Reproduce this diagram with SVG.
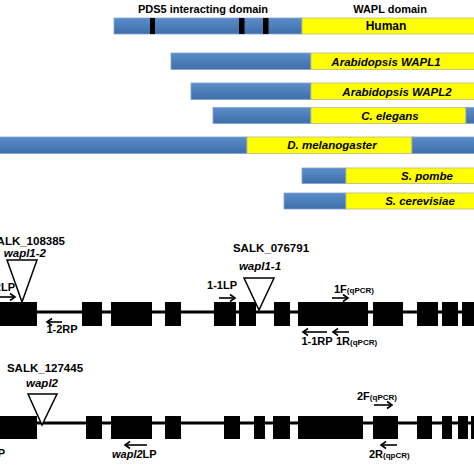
<svg xmlns="http://www.w3.org/2000/svg" width="474" height="474" viewBox="0 0 474 474">
<defs>
<linearGradient id="bl" x1="0" y1="0" x2="0" y2="1">
<stop offset="0" stop-color="#5b8dca"/>
<stop offset="1" stop-color="#3e6faa"/>
</linearGradient>
<marker id="ah" markerUnits="userSpaceOnUse" markerWidth="10" markerHeight="10" refX="7" refY="5" orient="auto">
<polyline points="2,1.5 7,5 2,8.5" fill="none" stroke="#000" stroke-width="1.6"/>
</marker>
<style>
.b{fill:url(#bl);stroke:#7fa3d1;stroke-width:0.8}
.y{fill:#ffff00;stroke:#b8b88a;stroke-width:0.8}
.t{font-family:"Liberation Sans",Arial,sans-serif;font-weight:bold;fill:#000}
.i{font-style:italic}
.ex{fill:#000}
.ln{stroke:#000;stroke-width:3}
.ar{stroke:#000;stroke-width:1.6;fill:none;marker-end:url(#ah)}
.tri{fill:#fff;stroke:#000;stroke-width:1.5}
.sm{font-size:8px}
</style>
</defs>
<rect width="474" height="474" fill="#fff"/>

<g id="headers">
<text class="t" x="203" y="12.5" font-size="11" text-anchor="middle">PDS5 interacting domain</text>
<text class="t" x="390" y="12.5" font-size="11" text-anchor="middle">WAPL domain</text>
</g>

<g id="human">
<rect class="b" x="114" y="18" width="188" height="16"/>
<rect class="y" x="302" y="18" width="173" height="16"/>
<rect x="150" y="18" width="5" height="16" fill="#000"/>
<rect x="239" y="18" width="5.5" height="16" fill="#000"/>
<rect x="263" y="18" width="5.5" height="16" fill="#000"/>
<text class="t" x="386" y="30" font-size="12" text-anchor="middle">Human</text>
</g>

<g id="wapl1">
<rect class="b" x="171" y="53" width="140" height="16.5"/>
<rect class="y" x="311" y="53" width="164" height="16.5"/>
<text class="t i" x="386" y="66" font-size="11.5" text-anchor="middle">Arabidopsis WAPL1</text>
</g>

<g id="wapl2">
<rect class="b" x="191" y="83" width="120" height="16.5"/>
<rect class="y" x="311" y="83" width="164" height="16.5"/>
<text class="t i" x="397" y="96" font-size="11.5" text-anchor="middle">Arabidopsis WAPL2</text>
</g>

<g id="celegans">
<rect class="b" x="213" y="107.5" width="98" height="16"/>
<rect class="y" x="311" y="107.5" width="155" height="16"/>
<rect class="b" x="466" y="107.5" width="9" height="16"/>
<text class="t i" x="390" y="119.5" font-size="11.5" text-anchor="middle">C. elegans</text>
</g>

<g id="dmel">
<rect class="b" x="-1" y="137" width="248" height="16.5"/>
<rect class="y" x="247" y="137" width="165" height="16.5"/>
<rect class="b" x="412" y="137" width="63" height="16.5"/>
<text class="t i" x="332" y="149" font-size="11.5" text-anchor="middle">D. melanogaster</text>
</g>

<g id="spombe">
<rect class="b" x="302" y="168" width="44" height="15.5"/>
<rect class="y" x="346" y="168" width="129" height="15.5"/>
<text class="t i" x="427" y="179.5" font-size="11.5" text-anchor="middle">S. pombe</text>
</g>

<g id="scerevisiae">
<rect class="b" x="284" y="193" width="62" height="16"/>
<rect class="y" x="346" y="193" width="129" height="16"/>
<text class="t i" x="420" y="205" font-size="11.5" text-anchor="middle">S. cerevisiae</text>
</g>

<g id="gene-wapl1">
<line class="ln" x1="0" y1="312" x2="474" y2="312"/>
<rect class="ex" x="0" y="302" width="37" height="24"/>
<rect class="ex" x="82" y="302" width="20" height="24"/>
<rect class="ex" x="111" y="302" width="41" height="24"/>
<rect class="ex" x="165" y="302" width="16" height="24"/>
<rect class="ex" x="214" y="302" width="22" height="24"/>
<rect class="ex" x="239" y="302" width="17" height="24"/>
<rect class="ex" x="274" y="302" width="16" height="24"/>
<rect class="ex" x="298" y="302" width="70" height="24"/>
<rect class="ex" x="373" y="302" width="30" height="24"/>
<rect class="ex" x="417" y="302" width="21" height="24"/>
<rect class="ex" x="442" y="302" width="16" height="24"/>
<rect class="ex" x="462" y="302" width="13" height="24"/>
</g>

<g id="ins-wapl1-2">
<polygon class="tri" points="7,260 37,260 22,302"/>
<text class="t" x="65" y="245" font-size="11.5" text-anchor="end">SALK_108385</text>
<text class="t i" x="46" y="257" font-size="11.5" text-anchor="end">wapl1-2</text>
</g>

<g id="ins-wapl1-1">
<polygon class="tri" points="244,278 274,278 259,310"/>
<text class="t" x="271" y="252" font-size="11.5" text-anchor="middle">SALK_076791</text>
<text class="t i" x="260" y="270" font-size="11.5" text-anchor="middle">wapl1-1</text>
</g>

<g id="gene-wapl2">
<line class="ln" x1="0" y1="423" x2="474" y2="423"/>
<rect class="ex" x="0" y="416" width="37" height="23"/>
<rect class="ex" x="86" y="416" width="16" height="23"/>
<rect class="ex" x="111" y="416" width="41" height="23"/>
<rect class="ex" x="165" y="416" width="16" height="23"/>
<rect class="ex" x="224" y="416" width="16" height="23"/>
<rect class="ex" x="254" y="416" width="11" height="23"/>
<rect class="ex" x="273" y="416" width="17" height="23"/>
<rect class="ex" x="298" y="416" width="65" height="23"/>
<rect class="ex" x="373" y="416" width="25" height="23"/>
<rect class="ex" x="417" y="416" width="15" height="23"/>
<rect class="ex" x="442" y="416" width="10" height="23"/>
<rect class="ex" x="458" y="416" width="10" height="23"/>
<rect class="ex" x="471" y="416" width="4" height="23"/>
</g>

<g id="ins-wapl2">
<polygon class="tri" points="28,394 57,394 42,425"/>
<text class="t" x="45" y="372" font-size="11.5" text-anchor="middle">SALK_127445</text>
<text class="t i" x="42" y="387" font-size="11.5" text-anchor="middle">wapl2</text>
</g>

<g id="connectors">
<path class="ar" d="M0,297 H15"/>
<path class="ar" d="M62,322 H47"/>
<path class="ar" d="M219,298 H235"/>
<path class="ar" d="M332,298 H348"/>
<path class="ar" d="M327,332 H303"/>
<path class="ar" d="M349,332 H333"/>
<path class="ar" d="M147,445 H125"/>
<path class="ar" d="M374,405 H392"/>
<path class="ar" d="M397,445 H381"/>
</g>

<g id="primer-labels">
<text class="t" x="15" y="291" font-size="11" text-anchor="end">1-2LP</text>
<text class="t" x="62" y="333" font-size="11" text-anchor="middle">1-2RP</text>
<text class="t" x="222" y="289" font-size="11" text-anchor="middle">1-1LP</text>
<text class="t" x="334" y="293" font-size="11">1F<tspan class="sm">(qPCR)</tspan></text>
<text class="t" x="317" y="345" font-size="11" text-anchor="middle">1-1RP</text>
<text class="t" x="336" y="345" font-size="11">1R<tspan class="sm">(qPCR)</tspan></text>
<text class="t" x="112" y="458" font-size="11"><tspan class="i">wapl2</tspan>LP</text>
<text class="t" x="5" y="457" font-size="11" text-anchor="end">P</text>
<text class="t" x="357" y="400" font-size="11">2F<tspan class="sm">(qPCR)</tspan></text>
<text class="t" x="369" y="458" font-size="11">2R<tspan class="sm">(qpCR)</tspan></text>
</g>
</svg>
